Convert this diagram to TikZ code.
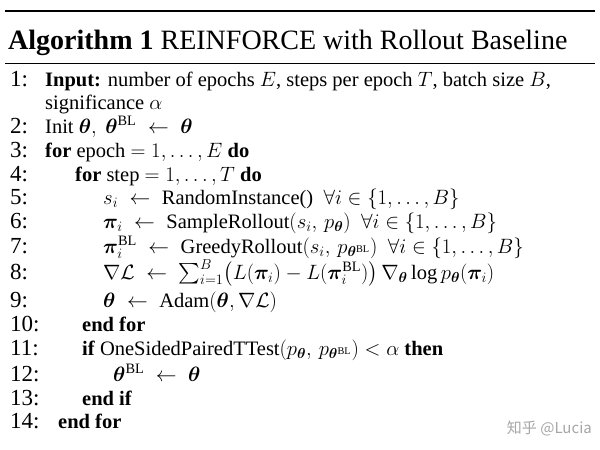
\documentclass[tikz,border=0pt]{standalone}
\usepackage{amsmath,amssymb,bm}
\usepackage{fontspec}
\setmainfont{Liberation Serif}
\newfontfamily\cjk{Noto Sans CJK SC}
\tikzset{num/.style={anchor=base west,inner sep=0pt,font=\fontsize{23}{24}\selectfont},
 txt/.style={anchor=base west,inner sep=0pt,font=\fontsize{20.5}{22}\selectfont}}
\newcommand{\kw}[1]{\textbf{#1}}
\newcommand{\la}{\;\leftarrow\;}
\begin{document}
\begin{tikzpicture}[x=1pt,y=-1pt]
\useasboundingbox (0,0) rectangle (600,450);
\draw[line width=1.6pt] (5,11) -- (595,11);
\draw[line width=0.8pt] (5,63) -- (595,63);
\node[txt,font=\fontsize{28}{30}\selectfont] (t) at (8,49) {\textbf{Algorithm 1} REINFORCE with Rollout Baseline};
\foreach \n/\y in {1/86,2/133,3/157,4/181,5/204,6/228,7/253,8/279,9/307}{
 \node[num] (n\n) at (10,\y) {\n:};}
\foreach \n/\y in {10/331,11/355,12/381,13/405,14/428}{
 \node[num] (n\n) at (10,\y) {\n:};}
\node[txt] (l1) at (45,86) {\kw{Input:} number of epochs $E$, steps per epoch $T$, batch size $B$,};
\node[txt] (l1b) at (45,109) {significance $\alpha$};
\node[txt] (l2) at (45,133) {Init $\bm\theta,\ \bm\theta^{\text{BL}}\la\bm\theta$};
\node[txt] (l3) at (45,157) {\kw{for} epoch $=1,\ldots,E$ \kw{do}};
\node[txt] (l4) at (75,181) {\kw{for} step $=1,\ldots,T$ \kw{do}};
\node[txt] (l5) at (103,204) {$s_i\la\text{RandomInstance()}\ \ \forall i\in\{1,\ldots,B\}$};
\node[txt] (l6) at (103,228) {$\bm\pi_i\la\text{SampleRollout}(s_i,\,p_{\bm\theta})\ \ \forall i\in\{1,\ldots,B\}$};
\node[txt] (l7) at (103,253) {$\bm\pi_i^{\text{BL}}\la\text{GreedyRollout}(s_i,\,p_{\bm\theta^{\text{BL}}})\ \ \forall i\in\{1,\ldots,B\}$};
\node[txt] (l8) at (103,279) {$\nabla\mathcal{L}\la\sum_{i=1}^{B}\bigl(L(\bm\pi_i)-L(\bm\pi_i^{\text{BL}})\bigr)\,\nabla_{\bm\theta}\log p_{\bm\theta}(\bm\pi_i)$};
\node[txt] (l9) at (103,307) {$\bm\theta\la\text{Adam}(\bm\theta,\nabla\mathcal{L})$};
\node[txt] (l10) at (82,331) {\kw{end for}};
\node[txt] (l11) at (82,355) {\kw{if} OneSidedPairedTTest$(p_{\bm\theta},\,p_{\bm\theta^{\text{BL}}})<\alpha$ \kw{then}};
\node[txt] (l12) at (113,381) {$\bm\theta^{\text{BL}}\la\bm\theta$};
\node[txt] (l13) at (82,405) {\kw{end if}};
\node[txt] (l14) at (58,428) {\kw{end for}};
\node[anchor=base east,inner sep=0pt,text=gray!70,font=\cjk\fontsize{15}{16}\selectfont] (wm) at (592,433) {知乎 @Lucia};
\end{tikzpicture}
\end{document}
